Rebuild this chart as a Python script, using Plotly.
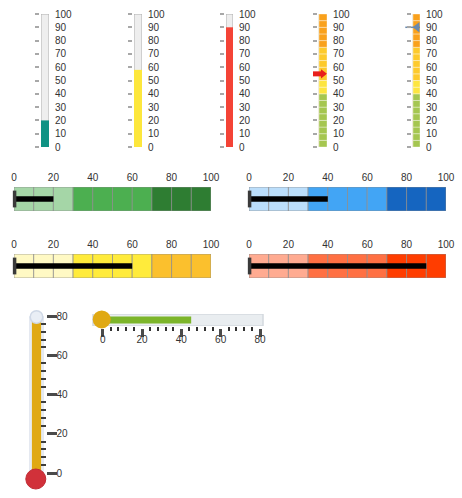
import plotly.graph_objects as go

W, H = 462, 498
FONT = "Liberation Sans"

# ---------------- data ----------------
simple_gauge_values = [20, 58, 90]
simple_gauge_colors = ["#0f9384", "#fde73c", "#f44336"]
gauge_ticks = [0, 10, 20, 30, 40, 50, 60, 70, 80, 90, 100]

band_gauge_markers = [55, 90]
band_gauge_edges = [0, 40, 50, 75, 100]
band_gauge_colors = ["#a5c650", "#fde540", "#fdca2c", "#f9a11c"]

bullet_values = [20, 40, 60, 90]
bullet_edges = [0, 30, 70, 100]
bullet_palettes = [
    ["#a5d6a7", "#4caf50", "#2e7d32"],
    ["#bbdefb", "#42a5f5", "#1565c0"],
    ["#fff9c4", "#ffeb3b", "#fbc02d"],
    ["#ffab91", "#ff7043", "#ff3d00"],
]
bullet_ticks = [0, 20, 40, 60, 80, 100]

thermo_value = 80
thermo_ticks = [0, 20, 40, 60, 80]
linear_value = 45
linear_ticks = [0, 20, 40, 60, 80]

# ---------------- helpers ----------------
fig = go.Figure()
layout = {}
count = [0]


def ref(prefix, i):
    return prefix if i == 1 else f"{prefix}{i}"


def name(prefix, i):
    return f"{prefix}axis" if i == 1 else f"{prefix}axis{i}"


def px_x(p):
    return p / W


def px_y(p):
    return 1 - p / H


BASE_AX = dict(showgrid=False, zeroline=False, showline=False, fixedrange=True,
               automargin=False)


def new_axes(x0, x1, ytop, ybot, xr, yr, xkw=None, ykw=None):
    count[0] += 1
    i = count[0]
    xa = dict(BASE_AX, domain=[px_x(x0), px_x(x1)], range=xr, anchor=ref("y", i),
              showticklabels=False, ticks="")
    ya = dict(BASE_AX, domain=[px_y(ybot), px_y(ytop)], range=yr, anchor=ref("x", i),
              showticklabels=False, ticks="")
    if xkw:
        xa.update(xkw)
    if ykw:
        ya.update(ykw)
    layout[name("x", i)] = xa
    layout[name("y", i)] = ya
    return i


def overlay_y(base, yr, kw):
    count[0] += 1
    j = count[0]
    ya = dict(BASE_AX, overlaying=ref("y", base), anchor="free", range=yr)
    ya.update(kw)
    layout[name("y", j)] = ya
    fig.add_trace(go.Scatter(x=[0.5], y=[yr[0]], xaxis=ref("x", base), yaxis=ref("y", j),
                             mode="markers", marker=dict(opacity=0), hoverinfo="skip",
                             showlegend=False))
    return j


def overlay_x(base, xr, kw):
    count[0] += 1
    j = count[0]
    xa = dict(BASE_AX, overlaying=ref("x", base), anchor="free", range=xr)
    xa.update(kw)
    layout[name("x", j)] = xa
    fig.add_trace(go.Scatter(x=[xr[0]], y=[0.5], xaxis=ref("x", j), yaxis=ref("y", base),
                             mode="markers", marker=dict(opacity=0), hoverinfo="skip",
                             showlegend=False))
    return j


tickfont = dict(family=FONT, size=10, color="#333333")

# ---------------- vertical gauges ----------------
GT, GB = 14, 147
simple_pos = [(41, 49), (134, 142), (226, 233)]
band_pos = [(319, 327), (413, 420)]


def gauge_axes(x0, x1, extend=0):
    # x range [0, 1] spans the bar; `extend` px of room on the left for pointers
    xr = [-extend / (x1 - x0), 1]
    i = new_axes(x0 - extend, x1, GT, GB, xr, [0, 100],
                 ykw=dict(side="right", tickvals=gauge_ticks, showticklabels=True,
                          ticks="outside", ticklen=3, tickcolor="rgba(0,0,0,0)",
                          tickfont=tickfont))
    overlay_y(i, [0, 100], dict(side="left", position=px_x(x0 - 2), tickvals=gauge_ticks,
                                ticks="outside", ticklen=4, tickwidth=2, tickcolor="#a8a8a8",
                                showticklabels=False))
    return i


for v, c, (x0, x1) in zip(simple_gauge_values, simple_gauge_colors, simple_pos):
    i = gauge_axes(x0, x1)
    fig.add_trace(go.Bar(x=[0.5], y=[100], width=[1], xaxis=ref("x", i), yaxis=ref("y", i),
                         marker=dict(color="#eeeeee", line=dict(color="#b0b0b0", width=1)),
                         hoverinfo="skip", showlegend=False))
    fig.add_trace(go.Bar(x=[0.5], y=[v], width=[1], xaxis=ref("x", i), yaxis=ref("y", i),
                         marker=dict(color=c, line=dict(width=0)), showlegend=False))

cell = 5
cells = list(range(0, 100, cell))


def band_color(val, edges, colors):
    for k in range(len(colors)):
        if edges[k] <= val < edges[k + 1]:
            return colors[k]
    return colors[-1]


for m, (x0, x1), kind in zip(band_gauge_markers, band_pos, ["arrow", "tri"]):
    i = gauge_axes(x0, x1, extend=10)
    fig.add_trace(go.Bar(x=[0.5], y=[100], width=[1], xaxis=ref("x", i), yaxis=ref("y", i),
                         marker=dict(color="rgba(0,0,0,0)", line=dict(color="#d8cfa8", width=1)),
                         hoverinfo="skip", showlegend=False))
    fig.add_trace(go.Bar(x=[0.5] * len(cells), y=[cell] * len(cells), base=cells,
                         width=[1] * len(cells), xaxis=ref("x", i), yaxis=ref("y", i),
                         marker=dict(color=[band_color(b, band_gauge_edges, band_gauge_colors)
                                            for b in cells],
                                     line=dict(color="rgba(255,255,255,0.45)", width=0.8)),
                         hoverinfo="skip", showlegend=False))
    if kind == "arrow":
        fig.add_trace(go.Scatter(x=[-0.75, 0.35], y=[m, m], xaxis=ref("x", i), yaxis=ref("y", i),
                                 mode="lines", line=dict(color="#e8201c", width=5),
                                 showlegend=False))
        fig.add_trace(go.Scatter(x=[0.5], y=[m], xaxis=ref("x", i), yaxis=ref("y", i),
                                 mode="markers", marker=dict(symbol="triangle-right", size=8,
                                                             color="#e8201c"),
                                 cliponaxis=False, showlegend=False))
    else:
        fig.add_trace(go.Scatter(x=[-1.1, 1.0], y=[m, m], xaxis=ref("x", i), yaxis=ref("y", i),
                                 mode="lines", line=dict(color="#6a8aae", width=1.5),
                                 showlegend=False))
        fig.add_trace(go.Scatter(x=[0.6], y=[m], xaxis=ref("x", i), yaxis=ref("y", i),
                                 mode="markers", marker=dict(symbol="triangle-left", size=9,
                                                             color="#6a8aae"),
                                 cliponaxis=False, showlegend=False))

# ---------------- bullet charts ----------------
bullet_pos = [(14, 211, 187, 211), (249, 446, 187, 211),
              (14, 211, 254, 278), (249, 446, 254, 278)]
bcells = list(range(0, 100, 10))
for v, pal, (x0, x1, yt, yb) in zip(bullet_values, bullet_palettes, bullet_pos):
    i = new_axes(x0, x1, yt, yb, [0, 100], [-0.5, 0.5],
                 xkw=dict(side="top", tickvals=bullet_ticks, showticklabels=True,
                          ticks="outside", ticklen=1, tickcolor="rgba(0,0,0,0)",
                          tickfont=tickfont))
    fig.add_trace(go.Bar(y=[0] * len(bcells), x=[10] * len(bcells), base=bcells,
                         orientation="h", width=[1] * len(bcells),
                         xaxis=ref("x", i), yaxis=ref("y", i),
                         marker=dict(color=[band_color(b, bullet_edges, pal) for b in bcells],
                                     line=dict(color="rgba(140,140,140,0.7)", width=1)),
                         hoverinfo="skip", showlegend=False))
    fig.add_trace(go.Bar(y=[0], x=[v], base=[0], orientation="h", width=[0.22],
                         xaxis=ref("x", i), yaxis=ref("y", i),
                         marker=dict(color="#000000", line=dict(width=0)), showlegend=False))
    fig.add_trace(go.Scatter(x=[0.3], y=[0], xaxis=ref("x", i), yaxis=ref("y", i),
                             mode="markers", marker=dict(symbol="line-ns", size=12,
                                                         line=dict(color="#3a3a3a", width=3.5)),
                             cliponaxis=False, showlegend=False))

# ---------------- thermometer ----------------
T_ZERO, T_PX_PER = 473, 157 / 80
t_top, t_bot = 300, 495
t_range = [(T_ZERO - t_bot) / T_PX_PER, (T_ZERO - t_top) / T_PX_PER]
t_bulb = (T_ZERO - 479) / T_PX_PER
t_tube_top = (T_ZERO - 317) / T_PX_PER
i = new_axes(29.5, 43.5, t_top, t_bot, [0, 1], t_range)
th = i
fig.add_trace(go.Scatter(x=[0.5], y=[t_tube_top], xaxis=ref("x", i), yaxis=ref("y", i),
                         mode="markers", marker=dict(symbol="circle", size=12.5, color="#e9eef5",
                                                     line=dict(color="#cfd8e6", width=1.5)),
                         cliponaxis=False, hoverinfo="skip", showlegend=False))
fig.add_trace(go.Bar(x=[0.5], y=[t_tube_top - t_bulb], base=[t_bulb], width=[1],
                     xaxis=ref("x", i), yaxis=ref("y", i),
                     marker=dict(color="#e9eef5", line=dict(color="#cfd8e6", width=1.5)),
                     hoverinfo="skip", showlegend=False))
fig.add_trace(go.Bar(x=[0.5], y=[t_tube_top - t_bulb + 1], base=[t_bulb], width=[0.86],
                     xaxis=ref("x", i), yaxis=ref("y", i),
                     marker=dict(color="#e9eef5", line=dict(width=0)),
                     hoverinfo="skip", showlegend=False))
fig.add_trace(go.Bar(x=[0.5], y=[thermo_value - t_bulb], base=[t_bulb], width=[0.66],
                     xaxis=ref("x", i), yaxis=ref("y", i),
                     marker=dict(color="#e0a913", line=dict(width=0)), showlegend=False))
fig.add_trace(go.Scatter(x=[0.45], y=[t_bulb], xaxis=ref("x", i), yaxis=ref("y", i),
                         mode="markers", marker=dict(symbol="circle", size=20, color="#d1313a",
                                                     line=dict(color="#c02a33", width=1)),
                         cliponaxis=False, showlegend=False))
minor_vals = [k for k in range(4, 80, 4) if k % 20 != 0]
overlay_y(th, t_range, dict(side="right", position=px_x(40), tickvals=minor_vals,
                            ticks="outside", ticklen=5, tickwidth=2, tickcolor="#3d3d3d",
                            showticklabels=False))
overlay_y(th, t_range, dict(side="right", position=px_x(46), tickvals=thermo_ticks,
                            ticks="outside", ticklen=10, tickwidth=2.5, tickcolor="#4a4a4a",
                            showticklabels=False))
overlay_y(th, t_range, dict(side="right", position=px_x(55.5), tickvals=thermo_ticks,
                            ticks="", showticklabels=True, tickfont=tickfont))

# ---------------- horizontal linear gauge ----------------
L_ZERO, L_PX_PER = 102.7, 157.3 / 80
l_x0, l_x1 = 88, 268
l_range = [(l_x0 - L_ZERO) / L_PX_PER, (l_x1 - L_ZERO) / L_PX_PER]
l_bg0 = (93 - L_ZERO) / L_PX_PER
l_bg1 = (263 - L_ZERO) / L_PX_PER
l_minor = [k for k in range(4, 80, 4) if k % 20 != 0]
i = new_axes(l_x0, l_x1, 314, 326, l_range, [0, 1],
             xkw=dict(side="bottom", tickvals=l_minor, ticks="outside", ticklen=4,
                      tickwidth=2, tickcolor="#333333"))
lg = i
fig.add_trace(go.Bar(y=[0.5], x=[l_bg1 - l_bg0], base=[l_bg0], width=[1], orientation="h",
                     xaxis=ref("x", i), yaxis=ref("y", i),
                     marker=dict(color="#e9edf0", line=dict(color="#d3d9de", width=1.5)),
                     hoverinfo="skip", showlegend=False))
fig.add_trace(go.Bar(y=[0.5], x=[linear_value], base=[0], width=[0.58], orientation="h",
                     xaxis=ref("x", i), yaxis=ref("y", i),
                     marker=dict(color="#7cb52a", line=dict(width=0)), showlegend=False))
fig.add_trace(go.Scatter(x=[-0.5], y=[0.55], xaxis=ref("x", i), yaxis=ref("y", i),
                         mode="markers", marker=dict(symbol="circle", size=18, color="#e0a913"),
                         cliponaxis=False, showlegend=False))
overlay_x(lg, l_range, dict(side="bottom", position=px_y(327.5), tickvals=linear_ticks,
                            ticks="outside", ticklen=8, tickwidth=2.5, tickcolor="#4a4a4a",
                            showticklabels=False))
overlay_x(lg, l_range, dict(side="bottom", position=px_y(332), tickvals=linear_ticks,
                            ticks="", showticklabels=True, tickfont=tickfont))

layout.update(dict(width=W, height=H, margin=dict(l=0, r=0, t=0, b=0, autoexpand=False),
                   paper_bgcolor="white", plot_bgcolor="rgba(0,0,0,0)",
                   barmode="overlay", showlegend=False, font=dict(family=FONT)))
fig.update_layout(**layout)
fig.write_html("out.html")
